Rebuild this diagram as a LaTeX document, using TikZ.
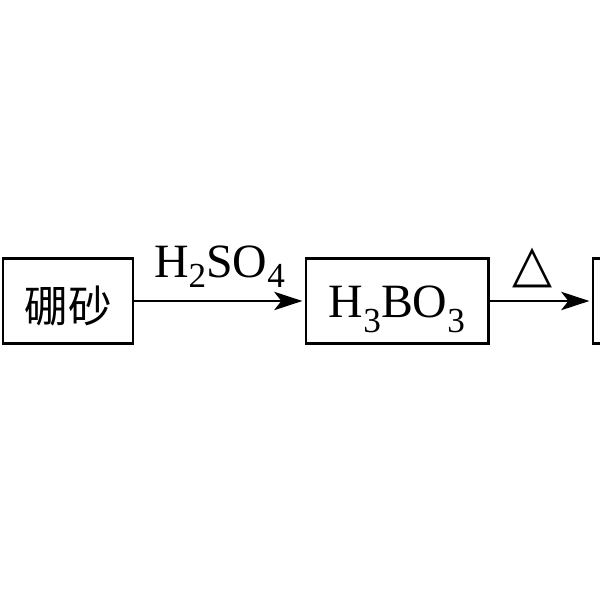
\documentclass[tikz,border=0pt]{standalone}
\usepackage{fontspec}
\setmainfont{Liberation Serif}
\newfontfamily\cjk{Noto Sans CJK SC}
\newfontfamily\sym{DejaVu Sans}
\usetikzlibrary{arrows.meta}

\newcommand\sub[2][9pt]{\raisebox{-#1}{\fontsize{25}{28}\selectfont #2}}

\tikzset{
  box/.style={draw, line width=2.1pt, minimum height=2.125cm, inner sep=0pt, text depth=0pt},
  arr/.style={line width=1.9pt, -{Stealth[length=20pt, width=13pt, inset=5pt]}, shorten >=1.5pt},
  cond/.style={inner sep=0pt}
}

\begin{document}
\begin{tikzpicture}[x=0.025cm, y=0.025cm, font=\fontsize{34}{40}\selectfont]
            \useasboundingbox (0,0) rectangle (600,600);
            % Nodes
            \node[box, minimum width=3.25cm, text height=30pt] (borax) at (68,299) {\cjk\fontsize{31}{36}\selectfont 硼砂};
            \node[box, minimum width=4.55cm, text height=23pt] (boric) at (397,299) {H\sub[11pt]{3}BO\sub[11pt]{3}};
            \node[box, minimum width=3.25cm] (oxide) at (658,299) {};

            % Lines
            \draw[arr] (borax) -- node[cond, above=8.5pt] (acid) {H\sub[7pt]{2}SO\sub[7pt]{4}} (boric);
            \draw[arr] (boric) -- node[cond, above=8.5pt, xshift=-5.7pt] (heat) {\sym\fontsize{37}{40}\selectfont △} (oxide);
        \end{tikzpicture}
\end{document}
